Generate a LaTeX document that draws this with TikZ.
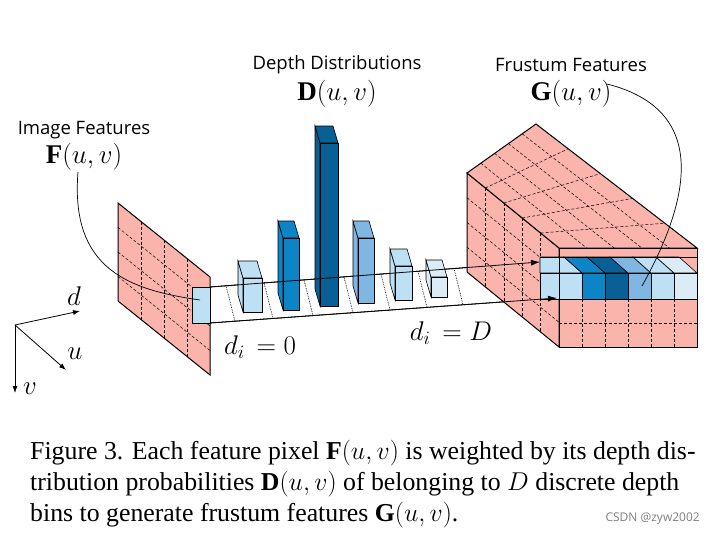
\RequirePackage{fix-cm}
\documentclass[tikz,border=0pt]{standalone}
\usepackage{fontspec}
\setmainfont{Liberation Serif}
\newfontfamily\lab{Open Sans}
\usetikzlibrary{arrows.meta}
\definecolor{pk}{RGB}{250,180,172}
\definecolor{bA}{RGB}{190,224,245}
\definecolor{bB}{RGB}{12,132,198}
\definecolor{bC}{RGB}{8,96,148}
\definecolor{bD}{RGB}{128,182,226}
\definecolor{bE}{RGB}{220,236,246}
\newcommand{\pbar}[5]{%
 \filldraw[fill=#5,line width=0.6pt] (#1,#3)--(#1-5,#3-17)--(#1-5,#4-17)--(#1,#4)--cycle;
 \filldraw[fill=#5,line width=0.6pt] (#1,#3)--(#1-5,#3-17)--(#2-5,#3-17)--(#2,#3)--cycle;
 \filldraw[fill=#5,line width=0.6pt] (#1,#3) rectangle (#2,#4);}
\tikzset{grid/.style={densely dashed,line width=0.5pt},
 edge/.style={line width=1pt},
 lbl/.style={font=\lab\fontsize{18.5}{20}\selectfont,inner sep=0pt},
 mlbl/.style={font=\fontsize{27}{29}\selectfont,inner sep=0pt},
 ray/.style={line width=0.8pt,-{Latex[length=9pt,width=6pt]}}}
\begin{document}
\begin{tikzpicture}[x=1pt,y=-1pt]
\useasboundingbox (0,0) rectangle (715,535);
\fill[white] (0,0) rectangle (715,535);
% image plane
\filldraw[fill=pk,edge] (118,203)--(210,277)--(210,375)--(118,301)--cycle;
\foreach \t in {0.25,0.5,0.75}{
 \draw[grid] ({118+92*\t},{203+74*\t})--({118+92*\t},{301+74*\t});
 \draw[grid] (118,{203+98*\t})--(210,{277+98*\t});}
\filldraw[fill=bA,line width=0.6pt] (192,287) rectangle (210,323);
\coordinate (p1) at (210,287); \coordinate (p2) at (210,323);
% floor
\coordinate (e1) at (540,262); \coordinate (e2) at (557,298);
\foreach \x in {226,264,304,344,381,418,454}{
 \draw[densely dotted,line width=0.7pt] (\x,{287-(\x-210)*25/330})--({\x+9},{323-(\x+9-210)*25/347});}
\draw[ray] (p1)--(e1);
\draw[ray] (p2)--(e2);
% bars
\pbar{243}{262}{278}{312}{bA}
\pbar{283}{299}{238}{310}{bB}
\pbar{320}{338}{143}{306}{bC}
\pbar{358}{374}{238}{303}{bD}
\pbar{395}{412}{266}{300}{bA}
\pbar{431}{447}{277}{297}{bE}
% frustum
\filldraw[fill=pk,edge] (467,173)--(559,248)--(559,347)--(467,272)--cycle;
\filldraw[fill=pk,edge] (467,173)--(536,124)--(697,248)--(559,248)--cycle;
\filldraw[fill=pk,edge] (559,248) rectangle (697,347);
\foreach \t in {0.2,0.4,0.6,0.8}{
 \draw[grid] ({467+92*\t},{173+75*\t})--({467+92*\t},{272+75*\t});
 \draw[grid] ({467+69*\t},{173-49*\t})--({559+138*\t},248);
 \draw[grid] ({467+92*\t},{173+75*\t})--({536+161*\t},{124+124*\t});}
\foreach \t in {0.25,0.5,0.75}{
 \draw[grid] (467,{173+99*\t})--(559,{248+99*\t});}
% slot
\fill[bA] (540,257) rectangle (559,299);
\foreach \a/\b/\c in {540/582/bA,582/605/bB,605/628/bC,628/651/bD,651/674/bA,674/697/bE}{
 \filldraw[fill=\c,line width=0.6pt] (\a,273)--({max(\a-18,540)},257)--({\b-18},257)--(\b,273)--cycle;
 \filldraw[fill=\c,line width=0.6pt] (\a,273) rectangle (\b,299);}
\draw[edge] (540,257)--(697,257)--(697,299)--(540,299);
\draw[line width=0.6pt] (559,248)--(697,248);
\foreach \x in {582,605,628,651,674}{\draw[grid] (\x,299)--(\x,347);}
\draw[grid] (559,323)--(697,323);
\draw[edge] (559,248) rectangle (697,347);
\draw[ray] (p1)--(e1); \draw[ray] (p2)--(e2);
% labels
\node[lbl] (dd) at (337,65) {Depth Distributions};
\node[mlbl] (ddm) at (337,94) {$\mathbf{D}(u,v)$};
\node[lbl] (ff) at (571,65) {Frustum Features};
\node[mlbl] (ffm) at (571,94) {$\mathbf{G}(u,v)$};
\node[lbl] (if) at (84,130) {Image Features};
\node[mlbl] (ifm) at (84,157) {$\mathbf{F}(u,v)$};
\node[mlbl] (d0) at (260,347) {$d_i\,=0$};
\node[mlbl] (dD) at (451,333) {$d_i\,=D$};
\coordinate (pc) at (200,300); \coordinate (fc) at (642,286);
\draw[line width=0.7pt] (78,172) .. controls (70,270) and (130,290) .. (pc);
\draw[line width=0.7pt] (607,84) .. controls (710,110) and (690,200) .. (fc);
% axes
\coordinate (o) at (15,325);
\coordinate (ad) at (80,311); \coordinate (au) at (66,370); \coordinate (av) at (15,393);
\draw[line width=0.8pt,-{Latex[length=7pt,width=5pt]}] (o)--(ad);
\draw[line width=0.8pt,-{Latex[length=7pt,width=5pt]}] (o)--(au);
\draw[line width=0.8pt,-{Latex[length=7pt,width=5pt]}] (o)--(av);
\node[mlbl] (ld) at (74,296) {$d$};
\node[mlbl] (lu) at (75,354) {$u$};
\node[mlbl] (lv) at (30,389) {$v$};
% caption
\node[anchor=west,inner sep=0pt,font=\fontsize{25.8}{31}\selectfont,align=left] (cap) at (30,484) {Figure 3. Each feature pixel $\mathbf{F}(u,v)$ is weighted by its depth dis-\\tribution probabilities $\mathbf{D}(u,v)$ of belonging to $D$ discrete depth\\bins to generate frustum features $\mathbf{G}(u,v)$.};
\node[anchor=east,inner sep=0pt,text=gray,font=\lab\fontsize{12}{13}\selectfont] (wm) at (700,519) {CSDN @zyw2002};
\end{tikzpicture}
\end{document}
